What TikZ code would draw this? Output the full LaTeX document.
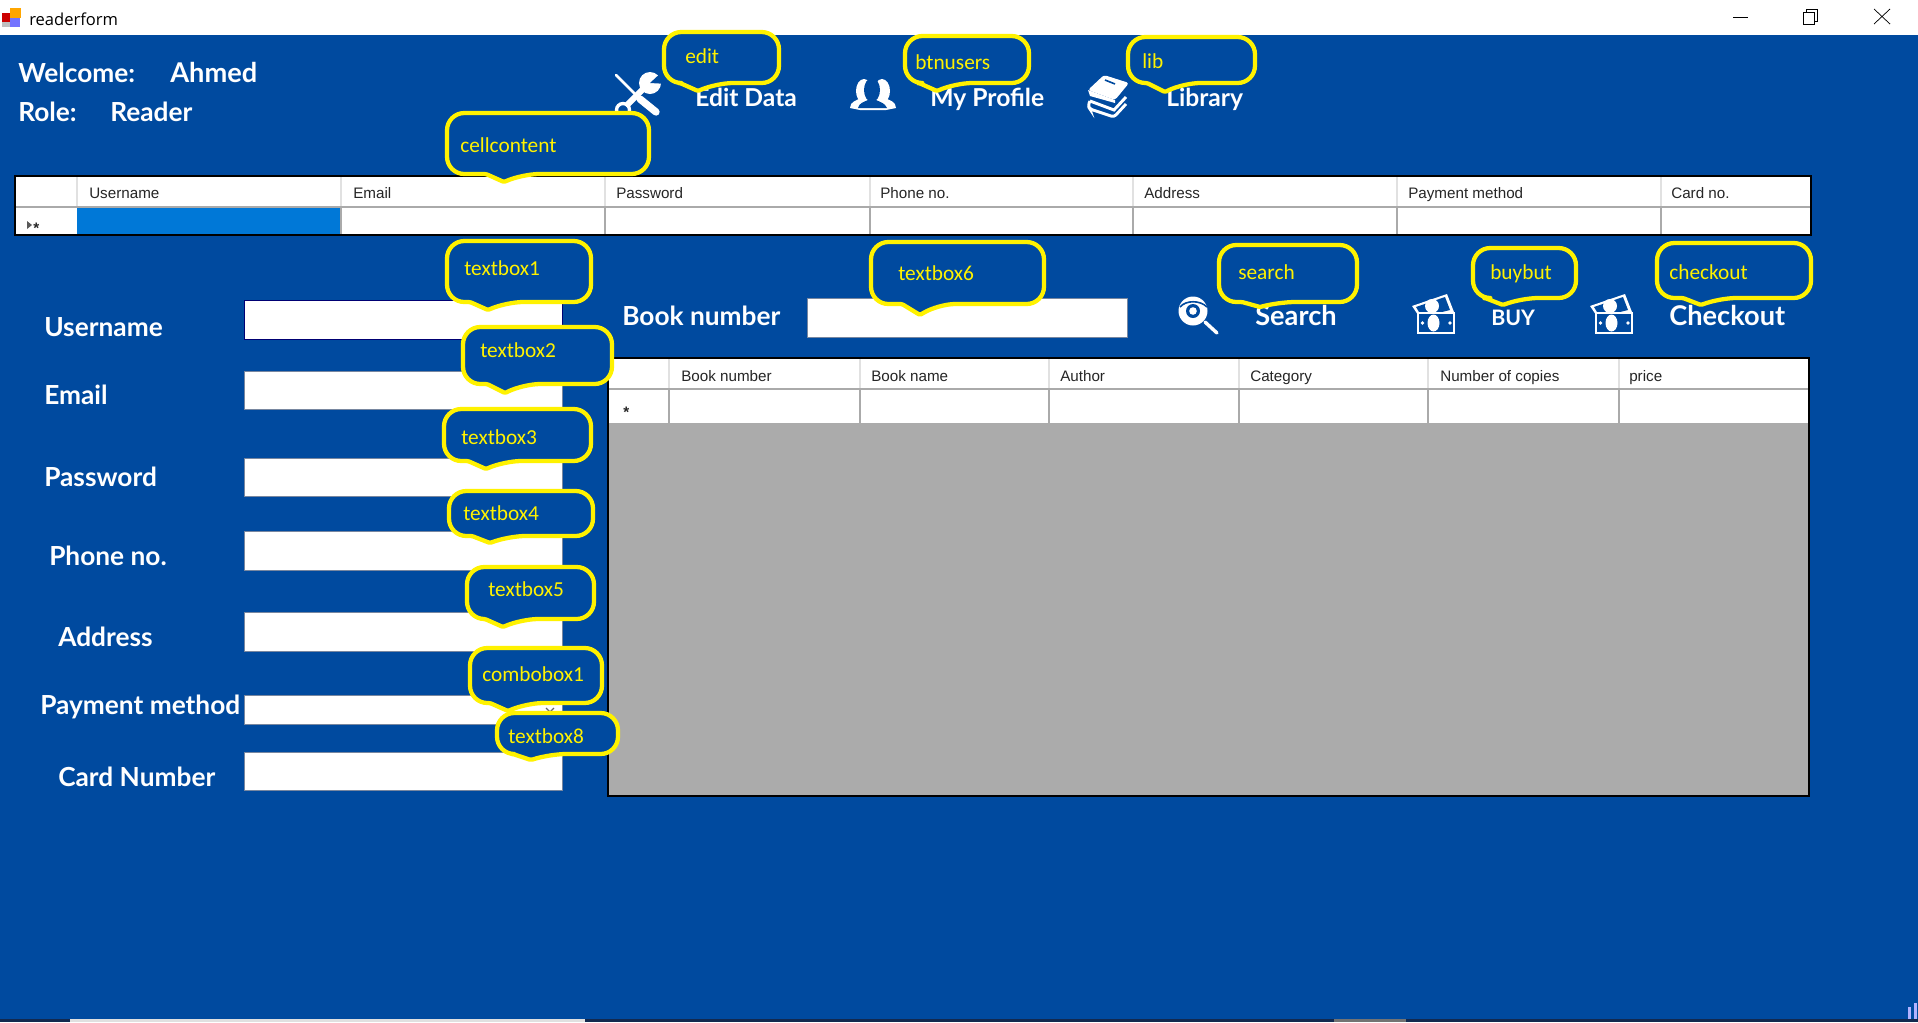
\documentclass[tikz,border=0pt]{standalone}
\usepackage{fontspec}
\setmainfont{Liberation Sans}
\newfontfamily\formfont{Lato}
\newfontfamily\notefont{Carlito}
\newfontfamily\titlefont{Open Sans}
\definecolor{formblue}{RGB}{0,74,159}
\definecolor{markyellow}{RGB}{255,242,0}
\definecolor{cellblue}{RGB}{0,120,215}
\definecolor{gridgray}{RGB}{171,171,171}
\definecolor{ruleline}{RGB}{170,170,170}
\definecolor{headline}{RGB}{225,225,225}
\definecolor{fieldline}{RGB}{120,135,160}
\definecolor{stripdark}{RGB}{18,41,79}
\tikzset{
  formlabel/.style={anchor=west,inner sep=0pt,text height=14pt,text depth=0pt,text=white,font=\formfont\bfseries\fontsize{19.7}{22}\selectfont},
  toollabel/.style={formlabel,font=\formfont\bfseries\fontsize{18.5}{22}\selectfont},
  buttonlabel/.style={formlabel,font=\formfont\bfseries\fontsize{20.4}{22}\selectfont},
  gridhead/.style={anchor=west,inner sep=0pt,text height=8.5pt,text depth=0pt,text=black!85,font=\fontsize{11.4}{13}\selectfont},
  notelabel/.style={anchor=west,inner sep=0pt,text height=11pt,text depth=0pt,text=markyellow,font=\notefont\fontsize{16}{19}\selectfont},
  fieldbox/.style={draw=fieldline,fill=white,line width=0.7pt},
  balloonline/.style={draw=markyellow,fill=formblue,line width=3.2pt,line join=round},
  iconfill/.style={fill=white,draw=none},
}
% corners x1,y1,x2,y2 and tip tx,ty
\newcommand{\balloon}[6]{%
  \draw [balloonline,rounded corners=13pt] (#1,#2) -- (#3,#2) -- (#3,#4) -- ({#5+18},#4) [rounded corners=1pt] -- (#5,#6) -- ({#5-18},#4) [rounded corners=13pt] -- (#1,#4) -- cycle ;
}
\newcommand{\moneyicon}{%
  \draw [iconfill] (12,21) -- (47,9) -- (54,27) -- (22,36) -- cycle ;
  \fill [formblue] (16,22) -- (45,12) -- (50,25) -- (22,32) -- cycle ;
  \fill [white] (32,21) ellipse (7 and 7) ;
  \draw [iconfill] (17,27) rectangle (55,49) ;
  \fill [formblue] (19,29) rectangle (53,47) ;
  \fill [white] (33.5,38) ellipse (6 and 8.5) ;
  \fill [white] (22.5,38) circle (1.8) ;
  \fill [white] (50,38) circle (1.8) ;
}

\begin{document}
\begin{tikzpicture}[x=0.75pt,y=0.75pt,yscale=-1,xscale=1]
\useasboundingbox (0,0) rectangle (1918,1022);

%Shape: window background
\fill [white] (0,0) rectangle (1918,35) ;
\fill [formblue] (0,35) rectangle (1918,1019) ;
\fill [stripdark] (0,1019) rectangle (1918,1022) ;
\fill [black!12!white] (70,1019) rectangle (585,1022) ;
\fill [black!55!white] (1334,1019) rectangle (1406,1022) ;
\fill [blue!30!white] (1908,1007) rectangle (1911,1019) ;
\fill [blue!30!white] (1914,1003) rectangle (1917,1019) ;

%Shape: title bar icon
\fill [red!80!black] (2,13) rectangle (10,22) ;
\fill [orange!70!yellow] (10,8) rectangle (21,18) ;
\fill [blue!55!white] (10,18) rectangle (20,27) ;
\fill [black!25!white] (2,22) rectangle (10,27) ;
% Text Node
\node (titletext) at (29,19) [anchor=west,inner sep=0pt,font=\titlefont\fontsize{12.4}{14}\selectfont] {readerform};
%Shape: window buttons
\draw [line width=0.55pt] (1733,17) -- (1748,17) ;
\draw [line width=0.55pt] (1803,12) rectangle (1814,24) ;
\draw [line width=0.55pt] (1806,12) -- (1806,9) -- (1817,9) -- (1817,21) -- (1814,21) ;
\draw [line width=0.55pt] (1874,9) -- (1890,24) ;
\draw [line width=0.55pt] (1890,9) -- (1874,24) ;

%Shape: user grid
\fill [white] (15,176) rectangle (1811,235) ;
\fill [cellblue] (77,207) rectangle (341,235) ;
\draw [headline,line width=0.8pt] (77,176) -- (77,207) ;
\draw [headline,line width=0.8pt] (341,176) -- (341,207) ;
\draw [headline,line width=0.8pt] (605,176) -- (605,207) ;
\draw [headline,line width=0.8pt] (870,176) -- (870,207) ;
\draw [headline,line width=0.8pt] (1133,176) -- (1133,207) ;
\draw [headline,line width=0.8pt] (1397,176) -- (1397,207) ;
\draw [headline,line width=0.8pt] (1661,176) -- (1661,207) ;
\draw [ruleline,line width=0.8pt] (341,207) -- (341,235) ;
\draw [ruleline,line width=0.8pt] (605,207) -- (605,235) ;
\draw [ruleline,line width=0.8pt] (870,207) -- (870,235) ;
\draw [ruleline,line width=0.8pt] (1133,207) -- (1133,235) ;
\draw [ruleline,line width=0.8pt] (1397,207) -- (1397,235) ;
\draw [ruleline,line width=0.8pt] (1661,207) -- (1661,235) ;
\draw [ruleline,line width=1.1pt] (15,207) -- (1811,207) ;
\draw [black,line width=1.1pt] (15,176) rectangle (1811,235) ;
\fill [black!65!white] (27,221) -- (32,225) -- (27,229) -- cycle ;
% Text Node
\node (rowstar) at (33,228) [gridhead,font=\bfseries\fontsize{11.4}{13}\selectfont] {*};
\node (headuser) at (89,193) [gridhead] {Username};
\node (heademail) at (353,193) [gridhead] {Email};
\node (headpass) at (616,193) [gridhead] {Password};
\node (headphone) at (880,193) [gridhead] {Phone no.};
\node (headaddr) at (1144,193) [gridhead] {Address};
\node (headpay) at (1408,193) [gridhead] {Payment method};
\node (headcard) at (1671,193) [gridhead] {Card no.};

%Shape: book grid
\fill [gridgray] (608,358) rectangle (1809,796) ;
\fill [white] (608,358) rectangle (1809,423) ;
\draw [headline,line width=0.8pt] (669,358) -- (669,389) ;
\draw [headline,line width=0.8pt] (860,358) -- (860,389) ;
\draw [headline,line width=0.8pt] (1049,358) -- (1049,389) ;
\draw [headline,line width=0.8pt] (1239,358) -- (1239,389) ;
\draw [headline,line width=0.8pt] (1428,358) -- (1428,389) ;
\draw [headline,line width=0.8pt] (1619,358) -- (1619,389) ;
\draw [ruleline,line width=0.8pt] (669,389) -- (669,423) ;
\draw [ruleline,line width=0.8pt] (860,389) -- (860,423) ;
\draw [ruleline,line width=0.8pt] (1049,389) -- (1049,423) ;
\draw [ruleline,line width=0.8pt] (1239,389) -- (1239,423) ;
\draw [ruleline,line width=0.8pt] (1428,389) -- (1428,423) ;
\draw [ruleline,line width=0.8pt] (1619,389) -- (1619,423) ;
\draw [ruleline,line width=1.1pt] (608,389) -- (1809,389) ;
\draw [black,line width=1.1pt] (608,358) rectangle (1809,796) ;
% Text Node
\node (bookstar) at (623,412) [gridhead,font=\bfseries\fontsize{11.4}{13}\selectfont] {*};
\node (headnumber) at (681,376) [gridhead] {Book number};
\node (headname) at (871,376) [gridhead] {Book name};
\node (headauthor) at (1060,376) [gridhead] {Author};
\node (headcategory) at (1250,376) [gridhead] {Category};
\node (headcopies) at (1440,376) [gridhead] {Number of copies};
\node (headprice) at (1629,376) [gridhead] {price};

%Shape: entry fields
\draw [fieldbox,draw=black!55!blue] (244,300) rectangle (562,339) ;
\draw [fieldbox] (244,371) rectangle (562,409) ;
\draw [fieldbox] (244,458) rectangle (562,496) ;
\draw [fieldbox] (244,531) rectangle (562,570) ;
\draw [fieldbox] (244,612) rectangle (562,651) ;
\draw [fieldbox] (244,695) rectangle (562,724) ;
\draw [fieldbox] (244,752) rectangle (562,790) ;
\draw [fieldbox] (807,298) rectangle (1127,337) ;
\draw [black!60!white,line width=0.9pt] (546,708) -- (550,712) -- (554,708) ;

% Text Node
\node (welcome) at (18,73) [formlabel] {Welcome:};
\node (ahmed) at (170,73) [buttonlabel] {Ahmed};
\node (role) at (18,112) [formlabel] {Role:};
\node (reader) at (110,112) [formlabel] {Reader};
\node (editdata) at (695,97) [toollabel] {Edit Data};
\node (myprofile) at (930,97) [toollabel] {My Profile};
\node (library) at (1166,97) [toollabel] {Library};
\node (username) at (44,327) [formlabel] {Username};
\node (email) at (44,395) [formlabel] {Email};
\node (password) at (44,477) [formlabel] {Password};
\node (phoneno) at (49,556) [formlabel] {Phone no.};
\node (address) at (58,637) [formlabel] {Address};
\node (paymethod) at (40,705) [formlabel] {Payment method};
\node (cardnumber) at (58,777) [formlabel] {Card Number};
\node (booknumber) at (622,316) [formlabel] {Book number};
\node (searchlabel) at (1255,316) [buttonlabel] {Search};
\node (buylabel) at (1491,316) [formlabel,font=\formfont\bfseries\fontsize{16}{20}\selectfont] {BUY};
\node (checkoutlabel) at (1669,316) [buttonlabel] {Checkout};

%Shape: tools icon
\draw [white,line width=2pt,line cap=round] (616,75) -- (640,99) ;
\draw [white,line width=5.5pt,line cap=round] (640,99) -- (656,112) ;
\draw [white,line width=4.5pt] (626,106) -- (645,87) ;
\draw [white,line width=2.5pt] (623,110) circle (6.5) ;
\fill [white] (650,83) circle (11) ;
\fill [formblue] (650,83) -- (664,70) -- (668,84) -- cycle ;

%Shape: people icon
\fill [white] (864,91) ellipse (8 and 12) ;
\fill [white] (882,91) ellipse (8 and 12) ;
\fill [white] (850,108) .. controls (850,102) and (856,100) .. (862,98) -- (884,98) .. controls (890,100) and (896,102) .. (896,108) -- (886,110) -- (860,110) -- cycle ;
\fill [formblue] (872,90) ellipse (8 and 12) ;
\fill [formblue] (858,108) .. controls (859,103) and (864,102) .. (868,100) -- (876,100) .. controls (880,102) and (885,103) .. (887,108) -- cycle ;

%Shape: books icon
\fill [white,rounded corners=2pt] (1104,75) -- (1129,83) -- (1115,100) -- (1088,90) -- cycle ;
\fill [white] (1088,90) -- (1115,100) -- (1115,103) -- (1090,96) -- cycle ;
\draw [formblue,line width=1.2pt] (1105,80) -- (1115,84) ;
\draw [white,line width=2.2pt] (1090,101) -- (1114,110) -- (1126,97) ;
\draw [white,line width=2.2pt,rounded corners=2pt] (1090,101) -- (1088,106) -- (1090,109) -- (1114,117) -- (1126,104) ;

%Shape: search icon
\fill [white] (1193,311) circle (14.5) ;
\fill [formblue] (1193,311) circle (7) ;
\fill [white] (1193,311) circle (3.8) ;
\draw [formblue,line width=1.2pt] (1180,307) .. controls (1186,300) and (1200,300) .. (1207,307) ;
\draw [white,line width=2.6pt,line cap=round] (1205,322) -- (1217,333) ;

%Shape: money icons
\begin{scope}[shift={(1400,285)}]
\moneyicon
\end{scope}
\begin{scope}[shift={(1578,285)}]
\moneyicon
\end{scope}

%Shape: yellow balloons
\balloon{664}{32}{779}{83}{698}{91}
\balloon{905}{36}{1029}{83}{937}{91}
\balloon{1128}{37}{1255}{83}{1165}{92}
\balloon{447}{113}{649}{174}{504}{182}
\balloon{447}{241}{591}{302}{488}{310}
\balloon{463}{327}{612}{384}{505}{393}
\balloon{444}{409}{591}{461}{486}{469}
\balloon{449}{491}{593}{536}{490}{543}
\balloon{467}{567}{594}{619}{503}{627}
\balloon{470}{648}{602}{703}{508}{711}
\balloon{497}{713}{618}{754}{531}{760}
\balloon{871}{242}{1044}{304}{920}{315}
\balloon{1219}{245}{1357}{302}{1260}{307}
\balloon{1473}{248}{1576}{298}{1503}{305}
\balloon{1657}{243}{1811}{298}{1701}{305}

% Text Node
\node (noteedit) at (685,56) [notelabel] {edit};
\node (noteusers) at (915,62) [notelabel] {btnusers};
\node (notelib) at (1142,61) [notelabel] {lib};
\node (notecell) at (460,145) [notelabel] {cellcontent};
\node (notebox1) at (464,268) [notelabel] {textbox1};
\node (notebox2) at (480,350) [notelabel] {textbox2};
\node (notebox3) at (461,437) [notelabel] {textbox3};
\node (notebox4) at (463,513) [notelabel] {textbox4};
\node (notebox5) at (488,589) [notelabel] {textbox5};
\node (notecombo) at (482,674) [notelabel] {combobox1};
\node (notebox8) at (508,736) [notelabel] {textbox8};
\node (notebox6) at (898,273) [notelabel] {textbox6};
\node (notesearch) at (1238,272) [notelabel] {search};
\node (notebuy) at (1490,272) [notelabel] {buybut};
\node (notecheck) at (1669,272) [notelabel] {checkout};

\end{tikzpicture}
\end{document}
